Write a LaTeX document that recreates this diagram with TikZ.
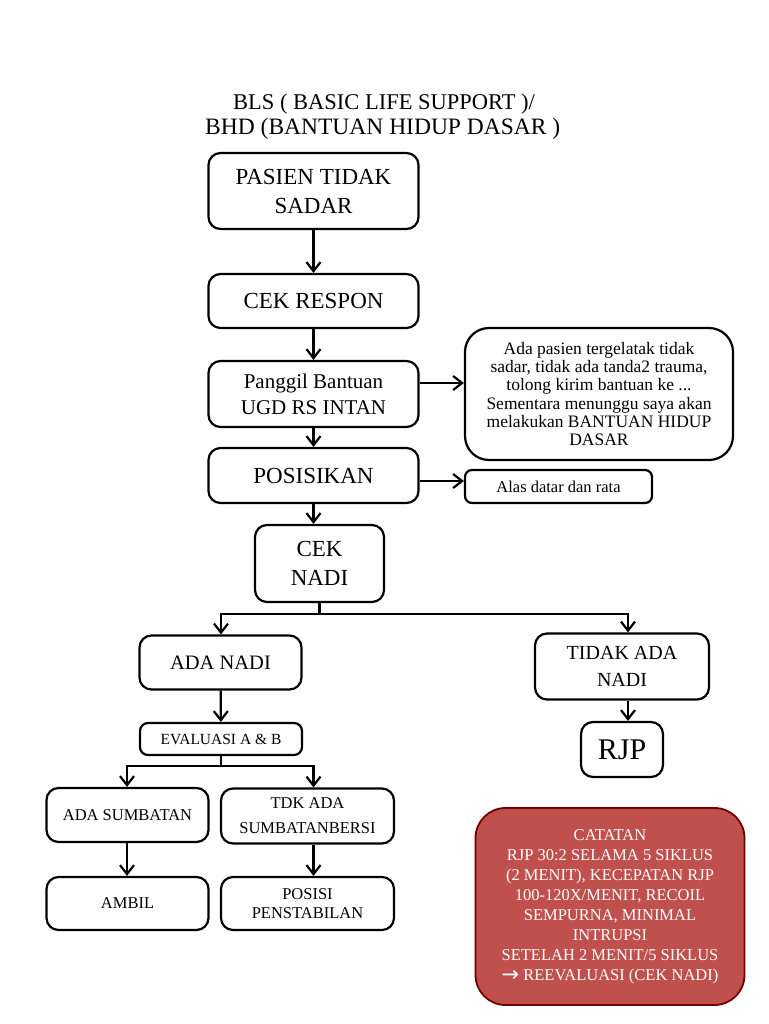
\documentclass[tikz,border=0pt]{standalone}
\usepackage{fontspec}
\setmainfont{Liberation Serif}
\usetikzlibrary{arrows.meta}

\tikzset{
  box/.style={draw, line width=2.2pt, rounded corners=12pt, align=center, inner sep=0pt},
  arr/.style={line width=2.2pt, -{Straight Barb[length=9pt,width=14pt]}},
  wire/.style={line width=2.2pt},
}

\begin{document}
\begin{tikzpicture}[x=1pt,y=-1pt]
            \useasboundingbox (0,0) rectangle (768,1024);
            
            % Title
            \node (title1) [anchor=base west, inner sep=0pt, font=\fontsize{22.5}{28}\selectfont] at (233,110) {BLS ( BASIC LIFE SUPPORT )/};%
            \node (title2) [anchor=base west, inner sep=0pt, font=\fontsize{23.5}{28}\selectfont] at (205,135) {BHD (BANTUAN HIDUP DASAR )};%
            
            % Main column
            \node (pasien) [box, minimum width=210pt, minimum height=76pt, font=\fontsize{23}{29}\selectfont] at (313.5,191) {PASIEN TIDAK\\SADAR};%
            \node (respon) [box, minimum width=210pt, minimum height=54pt, font=\fontsize{23}{28}\selectfont] at (313.5,301) {CEK RESPON};%
            \node (panggil) [box, minimum width=210pt, minimum height=66pt, font=\fontsize{21}{26}\selectfont] at (313.5,394) {Panggil Bantuan\\UGD RS INTAN};%
            \node (posisi) [box, minimum width=210pt, minimum height=55pt, font=\fontsize{23}{28}\selectfont] at (313.5,475.5) {POSISIKAN};%
            \node (ceknadi) [box, minimum width=129pt, minimum height=77pt, font=\fontsize{23}{29}\selectfont] at (319.5,563.5) {CEK\\NADI};%
            
            % Side notes
            \node (pesan) [box, rounded corners=24pt, minimum width=268pt, minimum height=132pt, font=\fontsize{17.5}{18.3}\selectfont] at (599,394) {Ada pasien tergelatak tidak\\sadar, tidak ada tanda2 trauma,\\tolong kirim bantuan ke ...\\Sementara menunggu saya akan\\melakukan BANTUAN HIDUP\\DASAR};%
            \node (alas) [box, rounded corners=7pt, minimum width=187pt, minimum height=33pt, font=\fontsize{16.5}{18}\selectfont] at (558.5,486.5) {Alas datar dan rata};%
            
            % Branches
            \node (adanadi) [box, minimum width=162pt, minimum height=54pt, font=\fontsize{20.5}{26}\selectfont] at (220.5,662.5) {ADA NADI};%
            \node (tidaknadi) [box, minimum width=174pt, minimum height=66pt, font=\fontsize{20}{27}\selectfont] at (622,666.5) {TIDAK ADA\\NADI};%
            \node (rjp) [box, minimum width=82pt, minimum height=55pt, font=\fontsize{30}{34}\selectfont] at (622,749.5) {RJP};%
            \node (evaluasi) [box, rounded corners=8pt, minimum width=162pt, minimum height=32pt, font=\fontsize{15.5}{18}\selectfont] at (221,739) {EVALUASI A \& B};%
            \node (sumbatan) [box, minimum width=162pt, minimum height=54pt, font=\fontsize{16.5}{20}\selectfont] at (127.5,815) {ADA SUMBATAN};%
            \node (tdksumbatan) [box, minimum width=173pt, minimum height=55pt, font=\fontsize{16.5}{25}\selectfont] at (307.5,816) {\raisebox{-3pt}{\begin{tabular}{@{}c@{}}TDK ADA\\SUMBATANBERSI\end{tabular}}};%
            \node (ambil) [box, minimum width=162pt, minimum height=53pt, font=\fontsize{16.5}{20}\selectfont] at (127.5,903.5) {AMBIL};%
            \node (stabil) [box, minimum width=173pt, minimum height=53pt, font=\fontsize{16.5}{18.5}\selectfont] at (307.5,903.5) {POSISI\\PENSTABILAN};%
            
            % Note box
            \node (catatan) [box, rounded corners=30pt, draw=red!45!black, line width=1.8pt, fill={rgb,255:red,192;green,80;blue,77}, text=white, minimum width=269pt, minimum height=197pt, font=\fontsize{16.5}{20}\selectfont] at (610,906.5) {\raisebox{-6pt}{\begin{tabular}{@{}c@{}}CATATAN\\RJP 30:2 SELAMA 5 SIKLUS\\(2 MENIT), KECEPATAN RJP\\100-120X/MENIT, RECOIL\\SEMPURNA, MINIMAL\\INTRUPSI\\SETELAH 2 MENIT/5 SIKLUS\\{\fontspec{DejaVu Sans}\fontsize{21}{20}\selectfont\raisebox{-1pt}{→}} REEVALUASI (CEK NADI)\end{tabular}}};%
            
            % Helper points
            \coordinate (p1) at (419,383);%
            \coordinate (p2) at (419,481);%
            \coordinate (s1) at (221,614);%
            \coordinate (s2) at (628,614);%
            \coordinate (s3) at (127,766);%
            \coordinate (s4) at (313.5,766);%
            
            % Drawing arrows of main column
            \draw [arr] (pasien) -- (respon);%
            \draw [arr] (respon) -- (panggil);%
            \draw [arr] (panggil) -- (posisi);%
            \draw [arr] (posisi.south) -- (ceknadi.north -| posisi.south);%
            
            % Drawing arrows to side notes
            \draw [arr] (panggil.east |- p1) -- (pesan.west |- p1);%
            \draw [arr] (posisi.east |- p2) -- (alas.west |- p2);%
            
            % Drawing split under CEK NADI
            \draw [wire] (ceknadi.south) -- (ceknadi.south |- s1);%
            \draw [wire, line cap=rect] (s1) -- (s2);%
            \draw [arr] (s1) -- (adanadi.north -| s1);%
            \draw [arr] (s2) -- (tidaknadi.north -| s2);%
            \draw [arr] (tidaknadi.south -| s2) -- (rjp.north -| s2);%
            \draw [arr] (adanadi) -- (evaluasi);%
            
            % Drawing split under EVALUASI
            \draw [wire] (evaluasi.south) -- (evaluasi.south |- s3);%
            \draw [wire, line cap=rect] (s3) -- (s4);%
            \draw [arr] (s3) -- (sumbatan.north -| s3);%
            \draw [arr] (s4) -- (tdksumbatan.north -| s4);%
            \draw [arr] (sumbatan.south -| s3) -- (ambil.north -| s3);%
            \draw [arr] (tdksumbatan.south -| s4) -- (stabil.north -| s4);%
        \end{tikzpicture}
\end{document}
